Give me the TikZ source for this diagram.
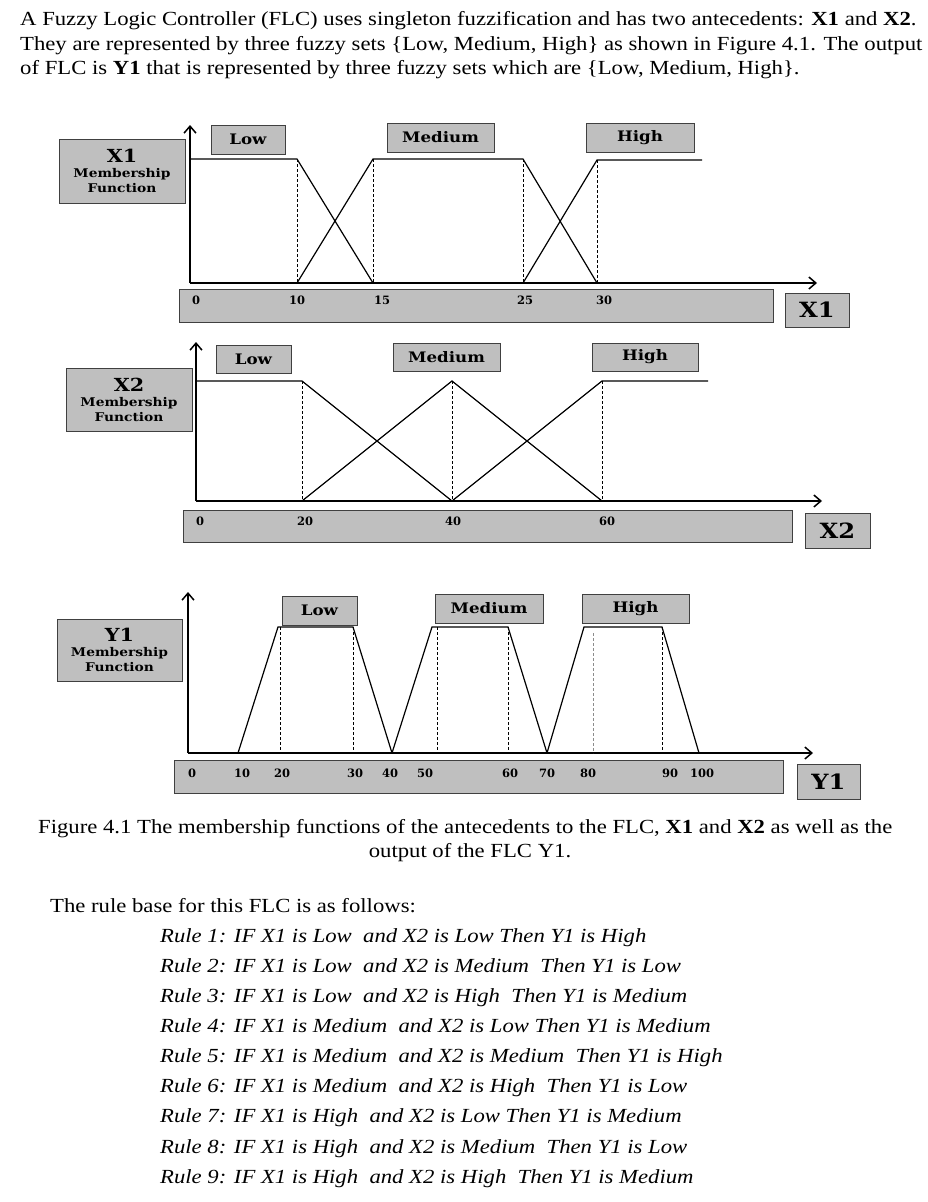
\documentclass[tikz,border=0pt]{standalone}
\usepackage{fontspec}
\setmainfont{Liberation Serif}
\newfontfamily\hdr[FakeStretch=1.135]{Liberation Serif}
\newfontfamily\dg[FakeStretch=1.15]{DejaVu Serif}
\newfontfamily\dgt{DejaVu Serif}
\usetikzlibrary{arrows.meta}
\tikzset{
  gbox/.style={draw=black!75, fill=black!25, line width=1pt, inner sep=0pt, font=\dg\bfseries\fontsize{14.5}{16}\selectfont},
  lbox/.style={gbox, align=center, font=\dg\bfseries\fontsize{12}{15}\selectfont},
  tick/.style={font=\dgt\bfseries\fontsize{11.5}{13}\selectfont, inner sep=0pt},
  axlab/.style={gbox, font=\dg\bfseries\fontsize{21}{22}\selectfont},
  axis/.style={line width=1.8pt, -{Straight Barb[length=7pt,width=12pt,line width=1.5pt]}},
  mf/.style={line width=1.2pt},
  dsh/.style={line width=1pt, dash pattern=on 3pt off 2pt},
  txt/.style={anchor=base west, inner sep=0pt, font=\hdr\fontsize{20}{24}\selectfont},
  rule/.style={anchor=base west, inner sep=0pt, font=\hdr\itshape\fontsize{20}{24}\selectfont}
}
\begin{document}
\begin{tikzpicture}[x=1pt,y=-1pt]
\useasboundingbox[fill=white] (0,0) rectangle (928,1202);

% header
\node[txt] (h1) at (20,25) {A Fuzzy Logic Controller (FLC) uses singleton fuzzification and has two antecedents: \textbf{X1} and \textbf{X2}.};
\node[txt] (h2) at (20,50) {They are represented by three fuzzy sets \{Low, Medium, High\} as shown in Figure 4.1. The output};
\node[txt] (h3) at (20,74) {of FLC is \textbf{Y1} that is represented by three fuzzy sets which are \{Low, Medium, High\}.};

% ---------- X1 panel
\coordinate (o1) at (190,283);
\draw[axis] (o1) -- (190,125);
\draw[axis] (o1) -- (817,283);
\node[lbox, minimum width=126pt, minimum height=64pt] (x1lab) at (122,171) {{\fontsize{18}{17}\selectfont X1}\\Membership\\Function};
\node[gbox, minimum width=74pt, minimum height=29pt] (low1) at (248,139.5) {Low};
\node[gbox, minimum width=107pt, minimum height=29pt] (med1) at (440.5,137.5) {Medium};
\node[gbox, minimum width=108pt, minimum height=29pt] (high1) at (640,137.5) {High};
\node[gbox, minimum width=594pt, minimum height=33pt] (bar1) at (476,305.5) {};
\node[axlab, minimum width=64pt, minimum height=34pt] (x1ax) at (817,310) {X1};
\node[tick] (t1a) at (196,300) {0};
\node[tick] (t1b) at (297,300) {10};
\node[tick] (t1c) at (382,300) {15};
\node[tick] (t1d) at (525,300) {25};
\node[tick] (t1e) at (604,300) {30};
\draw[mf] (190,159) -- (297,159) -- (373,283);
\draw[mf] (297,283) -- (373,159) -- (523,159) -- (597,283);
\draw[mf] (523,283) -- (597,160) -- (702,160);
\foreach \xx/\yy in {297/159, 373/159, 523/159, 597/160}
  \draw[dsh] (\xx,\yy) -- (\xx,283);

% ---------- X2 panel
\coordinate (o2) at (196,501);
\draw[axis] (o2) -- (196,342);
\draw[axis] (o2) -- (822,501);
\node[lbox, minimum width=126pt, minimum height=63pt] (x2lab) at (129,399.5) {{\fontsize{18}{17}\selectfont X2}\\Membership\\Function};
\node[gbox, minimum width=75pt, minimum height=28pt] (low2) at (253.5,359) {Low};
\node[gbox, minimum width=107pt, minimum height=28pt] (med2) at (446.5,357) {Medium};
\node[gbox, minimum width=106pt, minimum height=28pt] (high2) at (645,357) {High};
\node[gbox, minimum width=609pt, minimum height=32pt] (bar2) at (487.5,526) {};
\node[axlab, minimum width=65pt, minimum height=35pt] (x2ax) at (837.5,530.5) {X2};
\node[tick] (t2a) at (200,521) {0};
\node[tick] (t2b) at (305,521) {20};
\node[tick] (t2c) at (453,521) {40};
\node[tick] (t2d) at (607,521) {60};
\draw[mf] (196,381) -- (302,381) -- (452,501);
\draw[mf] (302,501) -- (452,381) -- (602,501);
\draw[mf] (452,501) -- (602,381) -- (708,381);
\foreach \xx in {302,452,602}
  \draw[dsh] (\xx,381) -- (\xx,501);

% ---------- Y1 panel
\coordinate (o3) at (188,753);
\draw[axis] (o3) -- (188,592);
\draw[axis] (o3) -- (813,753);
\node[lbox, minimum width=125pt, minimum height=62pt] (y1lab) at (119.5,650) {{\fontsize{18}{17}\selectfont Y1}\\Membership\\Function};
\node[gbox, minimum width=75pt, minimum height=29pt] (low3) at (319.5,610.5) {Low};
\node[gbox, minimum width=108pt, minimum height=29pt] (med3) at (489,608.5) {Medium};
\node[gbox, minimum width=107pt, minimum height=29pt] (high3) at (635.5,608.5) {High};
\node[gbox, minimum width=609pt, minimum height=33pt] (bar3) at (478.5,776.5) {};
\node[axlab, minimum width=63pt, minimum height=35pt] (y1ax) at (828.5,781.5) {Y1};
\foreach \xx/\lab [count=\i] in {192/0, 242/10, 282/20, 355/30, 390/40, 425/50, 510/60, 547/70, 588/80, 670/90, 702/100}
  \node[tick] (t3\i) at (\xx,773) {\lab};
\draw[mf] (238,753) -- (278,627) -- (353,627) -- (392,753);
\draw[mf] (392,753) -- (432,627) -- (508,627) -- (547,753);
\draw[mf] (547,753) -- (584,627) -- (662,627) -- (699,753);
\foreach \xx in {280,353,437,508,662}
  \draw[dsh] (\xx,627) -- (\xx,753);
\draw[dsh, black!45] (593,633) -- (593,753);

% caption
\node[txt] (c1) at (38,833) {Figure 4.1 The membership functions of the antecedents to the FLC, \textbf{X1} and \textbf{X2} as well as the};
\node[txt, anchor=base] (c2) at (470,857) {output of the FLC Y1.};
\node[txt] (rb) at (50,912) {The rule base for this FLC is as follows:};

% rules
\node[rule] (r1) at (160,942) {Rule 1: IF X1 is Low\ \ and X2 is Low Then Y1 is High};
\node[rule] (r2) at (160,972) {Rule 2: IF X1 is Low\ \ and X2 is Medium\ \ Then Y1 is Low};
\node[rule] (r3) at (160,1002) {Rule 3: IF X1 is Low\ \ and X2 is High\ \ Then Y1 is Medium};
\node[rule] (r4) at (160,1032) {Rule 4: IF X1 is Medium\ \ and X2 is Low Then Y1 is Medium};
\node[rule] (r5) at (160,1062) {Rule 5: IF X1 is Medium\ \ and X2 is Medium\ \ Then Y1 is High};
\node[rule] (r6) at (160,1092) {Rule 6: IF X1 is Medium\ \ and X2 is High\ \ Then Y1 is Low};
\node[rule] (r7) at (160,1122) {Rule 7: IF X1 is High\ \ and X2 is Low Then Y1 is Medium};
\node[rule] (r8) at (160,1153) {Rule 8: IF X1 is High\ \ and X2 is Medium\ \ Then Y1 is Low};
\node[rule] (r9) at (160,1183) {Rule 9: IF X1 is High\ \ and X2 is High\ \ Then Y1 is Medium};
\end{tikzpicture}
\end{document}
